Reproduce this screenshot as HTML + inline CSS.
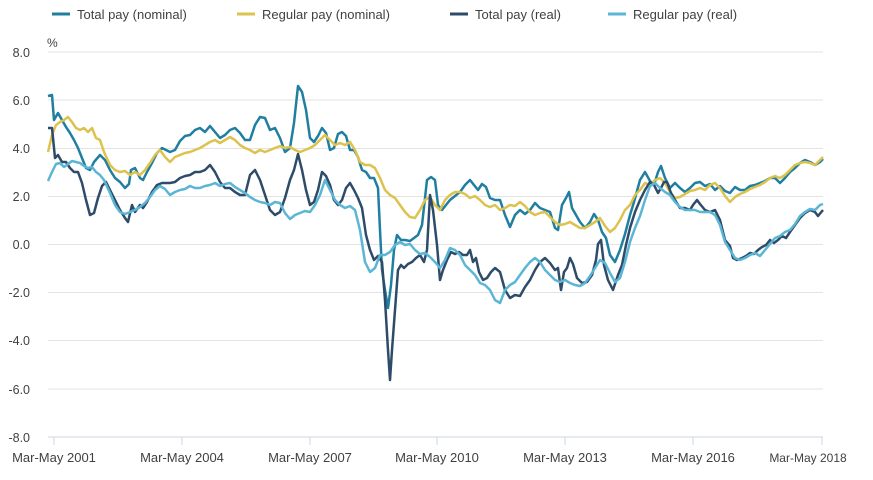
<!DOCTYPE html>
<html><head><meta charset="utf-8"><style>
body{margin:0;background:#fff;}
svg{display:block;font-family:"Liberation Sans",sans-serif;}
</style></head><body>
<svg width="873" height="480" viewBox="0 0 873 480" xmlns="http://www.w3.org/2000/svg">
<g font-size="13" fill="#414042">
<line x1="52" y1="14" x2="70" y2="14" stroke="#207fa0" stroke-width="3"/><text x="77" y="19">Total pay (nominal)</text>
<line x1="237" y1="14" x2="255" y2="14" stroke="#ddc24e" stroke-width="3"/><text x="262" y="19">Regular pay (nominal)</text>
<line x1="450" y1="14" x2="468" y2="14" stroke="#2e4c69" stroke-width="3"/><text x="475" y="19">Total pay (real)</text>
<line x1="608" y1="14" x2="626" y2="14" stroke="#5bb6d6" stroke-width="3"/><text x="633" y="19">Regular pay (real)</text>
</g>
<g stroke="#e3e3e3" stroke-width="1">
<line x1="48" y1="52" x2="823" y2="52"/><line x1="48" y1="100" x2="823" y2="100"/><line x1="48" y1="148.5" x2="823" y2="148.5"/><line x1="48" y1="196.5" x2="823" y2="196.5"/><line x1="48" y1="244.5" x2="823" y2="244.5"/><line x1="48" y1="292.5" x2="823" y2="292.5"/><line x1="48" y1="340.5" x2="823" y2="340.5"/><line x1="48" y1="389" x2="823" y2="389"/>
</g>
<line x1="48" y1="437" x2="823" y2="437" stroke="#cfd6e0" stroke-width="1"/>
<g stroke="#cfd6e0"><line x1="54" y1="437" x2="54" y2="445"/><line x1="182" y1="437" x2="182" y2="445"/><line x1="310" y1="437" x2="310" y2="445"/><line x1="437" y1="437" x2="437" y2="445"/><line x1="565" y1="437" x2="565" y2="445"/><line x1="693" y1="437" x2="693" y2="445"/><line x1="822" y1="437" x2="822" y2="445"/></g>
<g font-size="12.5" fill="#414042" text-anchor="end">
<text x="30" y="57">8.0</text><text x="30" y="105">6.0</text><text x="30" y="153">4.0</text><text x="30" y="201">2.0</text><text x="30" y="249">0.0</text><text x="30" y="297">-2.0</text><text x="30" y="345">-4.0</text><text x="30" y="394">-6.0</text><text x="30" y="442">-8.0</text>
</g>
<text x="47" y="47" font-size="12" fill="#414042">%</text>
<g font-size="13" fill="#414042" text-anchor="middle">
<text x="54" y="462">Mar-May 2001</text><text x="182" y="462">Mar-May 2004</text><text x="310" y="462">Mar-May 2007</text><text x="437" y="462">Mar-May 2010</text><text x="565" y="462">Mar-May 2013</text><text x="693" y="462">Mar-May 2016</text><text x="808" y="462" font-size="12">Mar-May 2018</text>
</g>
<g fill="none" stroke-width="2.5" stroke-linejoin="round">
<polyline stroke="#207fa0" points="48,96 52,95 54,120 58,113 62,120 66,127 70,133 74,140 78,148 82,158 86,168 90,170 94,162 100,155 105,160 110,170 115,178 120,182 125,188 129,184 131,170 135,168 140,178 143,180 147,172 152,163 157,153 162,148 166,150 170,152 175,150 180,141 185,136 190,135 195,130 200,128 205,132 210,126 215,132 220,138 225,135 230,130 235,128 240,133 245,140 250,140 255,125 260,117 265,118 270,130 275,128 280,138 285,152 290,148 294,123 298,86 302,92 306,110 310,138 314,142 318,136 322,128 326,133 330,150 334,148 338,134 342,132 346,136 350,150 354,150 358,157 362,170 366,172 370,178 374,178 378,188 380,230 382,270 385,290 388,308 391,285 394,250 397,235 401,240 405,240 410,241 414,238 418,235 422,225 427,180 431,177 435,180 438,205 442,210 446,205 450,200 455,196 460,192 465,185 470,180 474,185 478,190 482,184 486,187 490,198 495,200 500,200 505,215 510,227 515,215 520,210 525,214 530,210 535,203 540,208 545,210 550,212 555,228 558,230 562,205 566,198 569,192 572,208 576,215 580,222 585,228 590,222 594,214 598,220 602,232 606,238 610,255 615,262 620,250 625,234 630,215 634,202 640,180 645,172 650,181 654,185 658,172 661,166 665,178 670,188 675,183 680,188 685,192 690,188 695,183 700,182 705,186 710,184 715,190 720,186 725,191 730,193 735,187 740,190 745,190 750,186 755,185 760,183 765,181 770,178 775,178 780,183 785,178 790,172 795,168 800,163 805,160 810,162 815,165 820,162 823,159"/>
<polyline stroke="#ddc24e" points="48,152 52,135 56,125 60,122 64,120 68,117 72,122 76,128 80,130 84,128 88,132 92,128 96,138 100,140 104,152 110,165 115,170 120,172 125,171 130,175 135,172 140,175 145,170 150,163 155,155 160,150 165,157 170,162 175,157 180,155 185,153 190,152 195,150 200,148 205,145 210,142 215,140 220,143 225,140 230,137 235,140 240,145 245,148 250,150 255,153 260,150 265,152 270,150 275,148 280,146 285,148 290,147 295,150 300,152 305,150 310,148 315,145 320,140 325,135 330,140 335,145 340,143 345,145 350,142 355,150 360,162 365,165 370,165 375,168 380,178 385,190 390,195 395,198 400,205 405,212 410,217 415,218 420,210 425,200 430,197 435,205 440,210 445,200 450,195 455,192 460,192 465,194 470,198 475,196 480,200 485,205 490,207 495,205 500,210 505,208 510,205 515,206 520,202 525,206 530,212 535,215 540,213 545,212 550,217 555,222 560,225 565,224 570,222 575,225 580,228 585,228 590,225 595,222 600,218 605,226 610,232 615,228 620,220 625,210 630,205 635,195 640,190 645,183 650,185 655,180 660,178 665,183 670,192 675,198 680,197 685,194 690,191 695,190 700,188 705,190 710,185 715,183 720,188 725,196 730,202 735,197 740,194 745,192 750,189 755,187 760,185 765,182 770,178 775,176 780,178 785,175 790,170 795,165 800,163 805,162 810,163 815,165 820,160 823,157"/>
<polyline stroke="#2e4c69" points="48,128 52,128 55,158 58,155 62,162 66,162 70,168 74,172 78,172 82,183 86,200 90,215 94,213 98,198 102,186 106,182 110,190 115,200 120,210 125,218 128,222 132,205 135,212 140,205 143,208 147,202 152,192 157,185 162,183 166,183 170,183 175,182 180,178 185,176 190,175 195,172 200,172 205,170 210,165 215,172 220,182 225,188 230,188 235,192 240,195 245,195 250,175 255,170 260,180 265,195 270,210 275,215 280,212 285,198 290,180 294,170 298,154 302,170 306,190 310,205 314,202 318,190 322,172 326,176 330,185 334,200 338,205 342,200 346,188 350,183 354,190 358,198 362,208 366,235 370,250 374,260 378,256 382,262 385,300 388,350 390,380 392,350 395,310 398,270 401,265 404,268 408,264 412,262 416,258 420,255 424,262 427,250 430,195 433,210 437,245 440,280 443,270 447,260 451,252 455,254 459,252 463,255 467,255 470,250 473,262 476,258 479,272 483,280 487,278 491,272 495,268 500,272 505,290 510,298 515,295 520,296 525,287 530,280 535,270 540,262 545,258 550,263 555,270 558,268 561,290 564,272 567,268 570,258 573,264 577,278 582,283 587,282 592,275 596,260 598,244 601,240 604,265 608,280 613,290 618,275 622,265 626,245 630,228 635,212 640,200 645,190 650,182 654,185 658,193 661,188 664,182 667,182 671,193 675,200 680,208 685,208 690,210 693,205 697,200 700,204 705,210 710,212 715,210 720,220 725,240 730,246 733,258 737,260 742,258 746,256 750,253 754,254 758,250 762,247 766,245 770,240 774,243 778,240 782,236 786,238 790,232 795,225 800,218 805,213 810,210 815,212 818,216 823,210"/>
<polyline stroke="#5bb6d6" points="48,181 52,172 56,164 60,163 64,167 68,164 72,161 76,162 80,163 84,166 88,168 92,167 96,172 100,175 104,180 110,193 115,205 120,212 125,214 130,212 135,210 140,207 145,203 150,197 155,190 160,186 165,189 170,195 175,192 180,190 185,189 190,186 195,188 200,188 205,186 210,185 215,183 220,186 225,184 230,183 235,187 240,190 245,193 250,197 255,200 260,202 265,203 270,205 275,202 280,203 285,213 290,219 295,215 300,213 305,211 310,212 315,205 320,195 325,180 330,190 335,200 340,205 345,208 350,206 355,210 360,230 365,262 370,272 375,268 380,255 385,255 390,252 395,245 400,242 405,245 410,244 415,250 420,254 425,253 430,257 435,262 440,268 445,260 450,248 455,250 460,255 465,265 470,270 475,275 480,283 485,285 490,290 495,300 500,303 505,290 510,285 515,282 520,275 525,268 530,262 535,258 540,262 545,270 550,275 555,280 560,282 565,280 570,283 575,285 580,286 585,283 590,276 595,268 600,260 605,263 610,273 615,282 620,278 625,262 630,242 635,228 640,216 645,200 650,186 655,183 660,188 665,192 670,195 675,202 680,207 685,210 690,210 695,210 700,212 705,212 710,212 715,215 720,225 725,242 730,250 735,258 740,260 745,258 750,255 755,253 760,256 765,250 770,244 775,238 780,236 785,232 790,230 795,224 800,216 805,212 810,209 815,210 820,205 823,204"/>
</g>
</svg>
</body></html>
